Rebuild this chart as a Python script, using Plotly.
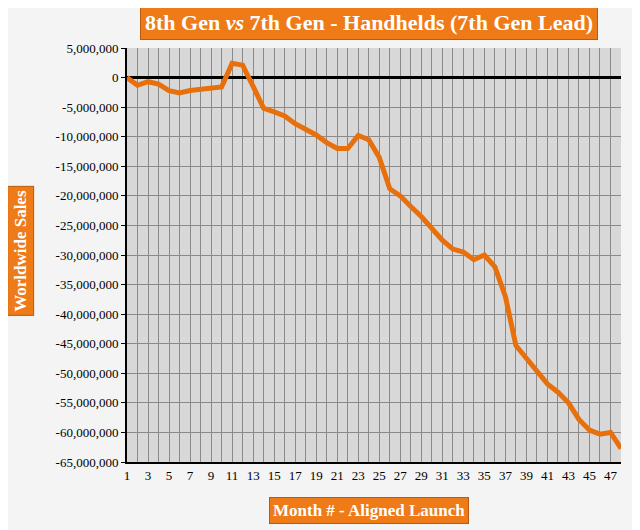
import plotly.graph_objects as go

months = list(range(1, 49))
lead = [0, -1.3, -0.7, -1.1, -2.2, -2.6, -2.2, -2.0, -1.8, -1.6, 2.4, 2.1,
        -1.5, -5.2, -5.8, -6.5, -7.8, -8.8, -9.7, -11.0, -12.0, -12.0, -9.8, -10.5,
        -13.5, -18.8, -20.0, -21.8, -23.5, -25.5, -27.5, -29.0, -29.5, -30.8, -30.0, -32.0,
        -37.0, -45.3, -47.5, -49.8, -51.8, -53.2, -55.0, -57.8, -59.6, -60.3, -60.0, -62.7]
lead = [v * 1e6 for v in lead]
yticks = list(range(5000000, -65000001, -5000000))
ylabels = ["0" if v == 0 else f"{v:,}" for v in yticks]
xticks = list(range(1, 48, 2))

fig = go.Figure(go.Scatter(x=months, y=lead, mode="lines",
                           line=dict(color="#e8700c", width=5), hoverinfo="skip"))
orange = "#ee7a18"
fig.update_layout(
    width=640, height=530, showlegend=False,
    margin=dict(l=119, r=27, t=40, b=76),
    paper_bgcolor="#f4f4f4", plot_bgcolor="#d8d8d8",
    font=dict(family="Liberation Serif", size=13, color="black"),
    xaxis=dict(range=[1, 48], tickvals=xticks, showgrid=True, gridcolor="#8a8a8a",
               gridwidth=1, minor=dict(dtick=1, tick0=1, showgrid=True, gridcolor="#8a8a8a", gridwidth=1),
               showline=True, linecolor="black", linewidth=2, zeroline=False,
               ticks="", tickfont=dict(family="Liberation Serif", size=13)),
    yaxis=dict(range=[-65e6, 5e6], tickvals=yticks, ticktext=ylabels, showgrid=True,
               gridcolor="#8a8a8a", gridwidth=1, zeroline=True, zerolinecolor="black",
               zerolinewidth=3, showline=True, linecolor="black", linewidth=2,
               ticks="outside", ticklen=4, tickcolor="black",
               tickfont=dict(family="Liberation Serif", size=13)),
    annotations=[
        dict(text="<b>8th Gen <i>vs</i> 7th Gen - Handhelds (7th Gen Lead)</b>",
             xref="paper", yref="paper", x=0.49, y=1.0, yshift=26, xanchor="center", yanchor="middle",
             showarrow=False, bgcolor=orange, bordercolor="#b85a10", borderwidth=1, borderpad=4,
             font=dict(family="Liberation Serif", size=22, color="white")),
        dict(text="<b>Worldwide Sales</b>", textangle=-90,
             xref="paper", yref="paper", x=0, xshift=-106, y=0.51, xanchor="center", yanchor="middle",
             showarrow=False, bgcolor=orange, bordercolor="#b85a10", borderwidth=1, borderpad=3,
             font=dict(family="Liberation Serif", size=17, color="white")),
        dict(text="<b>Month # - Aligned Launch</b>",
             xref="paper", yref="paper", x=0.49, y=0, yshift=-48, xanchor="center", yanchor="middle",
             showarrow=False, bgcolor=orange, bordercolor="#b85a10", borderwidth=1, borderpad=3,
             font=dict(family="Liberation Serif", size=17, color="white")),
    ],
)
fig.write_html("out.html")
